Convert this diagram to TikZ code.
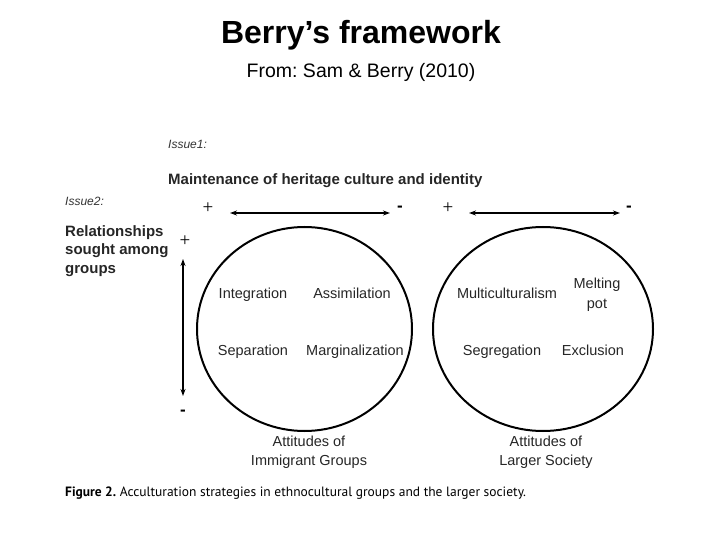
\documentclass[tikz,border=0pt]{standalone}
\usepackage{fontspec}
\setmainfont{Liberation Sans}
\newfontfamily\capfont{PT Sans}
\newfontfamily\signfont{Liberation Serif}
\usetikzlibrary{arrows.meta}
\frenchspacing

\begin{document}
\begin{tikzpicture}[x=1pt,y=-1pt,
    txt/.style={draw=none,inner sep=0pt,align=center,text=black!85,font=\fontsize{14.5}{19.5}\selectfont},
    word/.style={txt,text height=10.5pt,text depth=3pt},
    head/.style={draw=none,inner sep=0pt,anchor=west,align=left,text=black!85,font=\bfseries\fontsize{15}{18.5}\selectfont},
    issue/.style={draw=none,inner sep=0pt,anchor=west,text=black!80,font=\itshape\fontsize{12}{14}\selectfont},
    plus/.style={draw=none,inner sep=0pt,font=\signfont\fontsize{19}{19}\selectfont},
    minus/.style={draw=none,inner sep=0pt,font=\bfseries\fontsize{17}{17}\selectfont},
    twoway/.style={line width=1.4pt,{Stealth[length=7pt,width=5pt]}-{Stealth[length=7pt,width=5pt]}}]

\useasboundingbox (0,0) rectangle (720,540);

\node [draw=none] (title) at (361,35) {\bfseries\fontsize{32}{36}\selectfont Berry’s framework};
\node [draw=none] (source) at (361,72) {\fontsize{19.5}{22}\selectfont From: Sam \& Berry (2010)};

\node [issue] (issueA) at (168,144) {Issue1:};
\node [head] (maint) at (168,181) {Maintenance of heritage culture and identity};
\node [issue] (issueB) at (65,201) {Issue2:};
\node [head] (relat) at (65,251) {Relationships\\sought among\\groups};

% Attitude circles
\draw [line width=2pt] (304.5,329) ellipse [x radius=107.5, y radius=102];
\draw [line width=2pt] (543,329) ellipse [x radius=110, y radius=102];

% Horizontal scales
\node [plus] (plusA) at (208,208) {+};
\node [minus] (minusA) at (400,209) {-};
\node [plus] (plusB) at (448,208) {+};
\node [minus] (minusB) at (629,209) {-};
\coordinate (lA) at (230,213);
\coordinate (rA) at (390,213);
\coordinate (lB) at (469,213);
\coordinate (rB) at (620,213);
\draw [twoway] (lA) -- (rA);
\draw [twoway] (lB) -- (rB);

% Vertical scale
\node [plus] (plusC) at (185,241) {+};
\node [minus] (minusC) at (183,413) {-};
\coordinate (tC) at (183,259);
\coordinate (bC) at (183,396);
\draw [twoway] (tC) -- (bC);

\node [word] (integ) at (253,295) {Integration};
\node [word] (assim) at (352,295) {Assimilation};
\node [word] (separ) at (253,352) {Separation};
\node [word] (margi) at (355,352) {Marginalization};
\node [word] (multi) at (507,295) {Multiculturalism};
\node [txt] (melt) at (597,295) {Melting\\pot};
\node [word] (segre) at (502,352) {Segregation};
\node [word] (exclu) at (593,352) {Exclusion};

\node [txt] (immig) at (309,452) {Attitudes of\\Immigrant Groups};
\node [txt] (larger) at (546,452) {Attitudes of\\Larger Society};

\node [draw=none,inner sep=0pt,anchor=west] (caption) at (65,493) {\capfont\fontsize{13.5}{16}\selectfont\textbf{Figure 2.} Acculturation strategies in ethnocultural groups and the larger society.};

\end{tikzpicture}
\end{document}
